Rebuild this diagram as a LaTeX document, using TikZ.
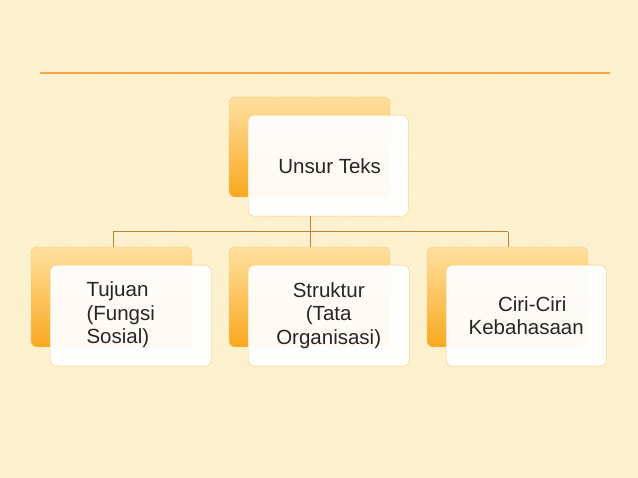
\documentclass[tikz,border=0pt]{standalone}
\usepackage{fontspec}
\setmainfont{Liberation Sans}
\definecolor{bg}{RGB}{252,241,204}
\definecolor{otop}{RGB}{255,224,160}
\definecolor{obot}{RGB}{249,168,30}
\definecolor{oline}{RGB}{247,200,120}
\definecolor{conn}{RGB}{190,130,50}
\begin{document}
\begin{tikzpicture}[x=1pt,y=-1pt,
  backbox/.style={rounded corners=6pt,top color=otop,bottom color=obot,draw=oline},
  frontbox/.style={rounded corners=6pt,fill=white,fill opacity=0.95,draw=oline,text opacity=1,
    font=\fontsize{20.5}{23.5}\selectfont,align=center,text=black!85},
  connline/.style={draw=conn,line width=1pt}]
\useasboundingbox (0,0) rectangle (638,478);
\fill[bg] (0,0) rectangle (638,478);
\foreach \i in {-500,-490,...,640} \draw[white,opacity=0.35,line width=0.6pt] (\i,478) -- (\i+478,0);
\draw[line width=1.5pt,draw=orange!70] (40,73) -- (610,73);
\path[backbox] (229,97) rectangle (390,197);
\path[backbox] (31,247) rectangle (192,347);
\path[backbox] (229,247) rectangle (390,347);
\path[backbox] (427,247) rectangle (588,347);
\node[frontbox,minimum width=160pt,minimum height=101pt,anchor=north west] (top) at (248,115) {\hspace*{3pt}Unsur Teks};
\node[frontbox,minimum width=161pt,minimum height=101pt,anchor=north west] (a) at (50,265) {\begin{tabular}{@{}l@{}}Tujuan\\(Fungsi\\Sosial)\end{tabular}\hspace*{20pt}};
\node[frontbox,minimum width=161pt,minimum height=101pt,anchor=north west] (b) at (248,265) {Struktur\\(Tata\\Organisasi)};
\node[frontbox,minimum width=160pt,minimum height=101pt,anchor=north west] (c) at (446,265) {\hspace*{12pt}Ciri-Ciri\\Kebahasaan};
\coordinate (j) at (310,232);
\draw[connline] (top.south -| j) -- (j);
\draw[connline] (113,232) -- (508,232);
\draw[connline] (113,232) -- (113,247);
\draw[connline] (310,232) -- (310,247);
\draw[connline] (508,232) -- (508,247);
\end{tikzpicture}
\end{document}
